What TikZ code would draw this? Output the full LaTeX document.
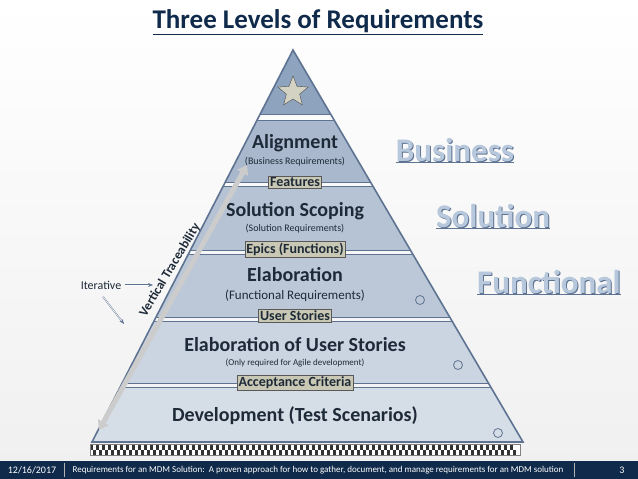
\documentclass[tikz,border=0pt]{standalone}
\usepackage{fontspec}
\setmainfont{Carlito}
\usetikzlibrary{shapes.geometric,arrows.meta,calc}
\definecolor{navy}{HTML}{0F2A4A}
\definecolor{bandA}{HTML}{8EA3BE}
\definecolor{bandB}{HTML}{A9B8CD}
\definecolor{bandC}{HTML}{BCC8D8}
\definecolor{bandD}{HTML}{CBD4E1}
\definecolor{edge}{HTML}{5E7392}
\definecolor{txt}{HTML}{1E2A38}
\definecolor{tag}{HTML}{C9C8B4}
\definecolor{lvl}{HTML}{B8C8DC}
\tikzset{
 tagbox/.style={draw=gray!70!black,fill=tag,inner sep=1.5pt,font=\bfseries\fontsize{14}{15}\selectfont,text=txt},
 head/.style={font=\bfseries\fontsize{20}{22}\selectfont,text=txt},
 sub/.style={font=\fontsize{10}{12}\selectfont,text=txt},
 level/.style={font=\bfseries\fontsize{33}{34}\selectfont,text=lvl,inner sep=0pt},
 levelsh/.style={font=\bfseries\fontsize{33}{34}\selectfont,text=edge,inner sep=0pt},
 ring/.style={draw=edge,line width=0.8pt,circle,minimum size=9pt,inner sep=0pt},
}
\begin{document}
\begin{tikzpicture}[x=1pt,y=-1pt]
\useasboundingbox (0,0) rectangle (638,479);
\shade[top color=white,bottom color=gray!12] (0,0) rectangle (638,479);
\def\lx#1{\fpeval{293-(#1-50)*201/392}}
\def\rx#1{\fpeval{293+(#1-50)*230/392}}
\fill[bandA] (293,50) -- (\lx{114},114) -- (\rx{114},114) -- cycle;
\fill[bandB] (\lx{120},120) -- (\rx{120},120) -- (\rx{182},182) -- (\lx{182},182) -- cycle;
\fill[bandB!85!white] (\lx{186},186) -- (\rx{186},186) -- (\rx{250},250) -- (\lx{250},250) -- cycle;
\fill[bandC] (\lx{254},254) -- (\rx{254},254) -- (\rx{317},317) -- (\lx{317},317) -- cycle;
\fill[bandD] (\lx{321},321) -- (\rx{321},321) -- (\rx{383},383) -- (\lx{383},383) -- cycle;
\fill[bandD!80!white] (\lx{387},387) -- (\rx{387},387) -- (\rx{442},442) -- (\lx{442},442) -- cycle;
\foreach \y in {114,120,182,186,250,254,317,321,383,387}{\draw[edge,line width=0.8pt] (\lx{\y},\y) -- (\rx{\y},\y);}
\draw[edge,line width=1.6pt] (293,50) -- (92,442) -- (523,442) -- cycle;
\fill[white] (90,444) rectangle (520,455);
\foreach \i in {0,...,70}{\fill[black!80] ({90+\i*6},444) rectangle ({93+\i*6},449.5); \fill[black!80] ({93+\i*6},449.5) rectangle ({96+\i*6},455);}
\draw[gray] (90,444) rectangle (520,455);
\node[star,star points=5,star point ratio=2.3,fill=tag!80!white,draw=gray!60!black,minimum size=32pt,inner sep=0pt] (star) at (293,92) {};
\node[head] (al) at (295,143) {Alignment};
\node[sub] (alr) at (295,162) {(Business Requirements)};
\node[tagbox] (f) at (295,182) {Features};
\node[head] (ss) at (295,211) {Solution Scoping};
\node[sub] (ssr) at (295,229) {(Solution Requirements)};
\node[tagbox] (ep) at (295,249) {Epics (Functions)};
\node[head] (el) at (295,275) {Elaboration};
\node[sub,font=\fontsize{13}{14}\selectfont] (elr) at (295,296) {(Functional Requirements)};
\node[tagbox] (us) at (295,316) {User Stories};
\node[head] (eu) at (295,345) {Elaboration of User Stories};
\node[sub,font=\fontsize{9}{10}\selectfont] (eur) at (295,363) {(Only required for Agile development)};
\node[tagbox] (ac) at (295,383) {Acceptance Criteria};
\node[head] (dv) at (295,416) {Development (Test Scenarios)};
\node[ring] (r1) at (420,300) {};
\node[ring] (r2) at (458,365) {};
\node[ring] (r3) at (498,433) {};
\node[levelsh] at (456,151) {Business};
\node[levelsh] at (494,217) {Solution};
\node[levelsh] at (550,283) {Functional};
\node[level] (bz) at (455,150) {Business};
\node[level] (so) at (493,216) {Solution};
\node[level] (fu) at (549,282) {Functional};
\foreach \n in {bz,so,fu}{\draw[edge,line width=1pt] ($(\n.south west)+(0,1)$) -- ($(\n.south east)+(0,1)$);}
\coordinate (vt1) at (247,165);
\coordinate (vt2) at (99,430);
\draw[{Triangle[width=12pt,length=9pt]}-{Triangle[width=12pt,length=9pt]},line width=5pt,draw=gray!40,fill=gray!40] (vt1) -- (vt2);
\node[font=\bfseries\fontsize{13}{14}\selectfont,text=txt,rotate=59] (vtl) at (170,270) {Vertical Traceability};
\node[font=\fontsize{12}{13}\selectfont,text=txt] (it) at (101,285) {Iterative};
\coordinate (ia) at (153,285);
\coordinate (ib) at (124,324);
\draw[-{Stealth[length=5pt]},double,edge] (it.east) -- (ia);
\draw[-{Stealth[length=5pt]},double,edge] ($(it.south)+(2,4)$) -- (ib);
\node[font=\bfseries\fontsize{27}{29}\selectfont,text=navy] (title) at (318,22) {\underline{Three Levels of Requirements}};
\fill[navy] (0,461) rectangle (638,479);
\draw[gray!60] (64,463) -- (64,477) (574,463) -- (574,477);
\node[text=white,font=\fontsize{10}{11}\selectfont] (date) at (32,470) {12/16/2017};
\node[text=white,font=\fontsize{9}{10}\selectfont] (ft) at (318,470) {Requirements for an MDM Solution:\ \ A proven approach for how to gather, document, and manage requirements for an MDM solution};
\node[text=white,font=\fontsize{10}{11}\selectfont] (pg) at (622,470) {3};
\end{tikzpicture}
\end{document}
